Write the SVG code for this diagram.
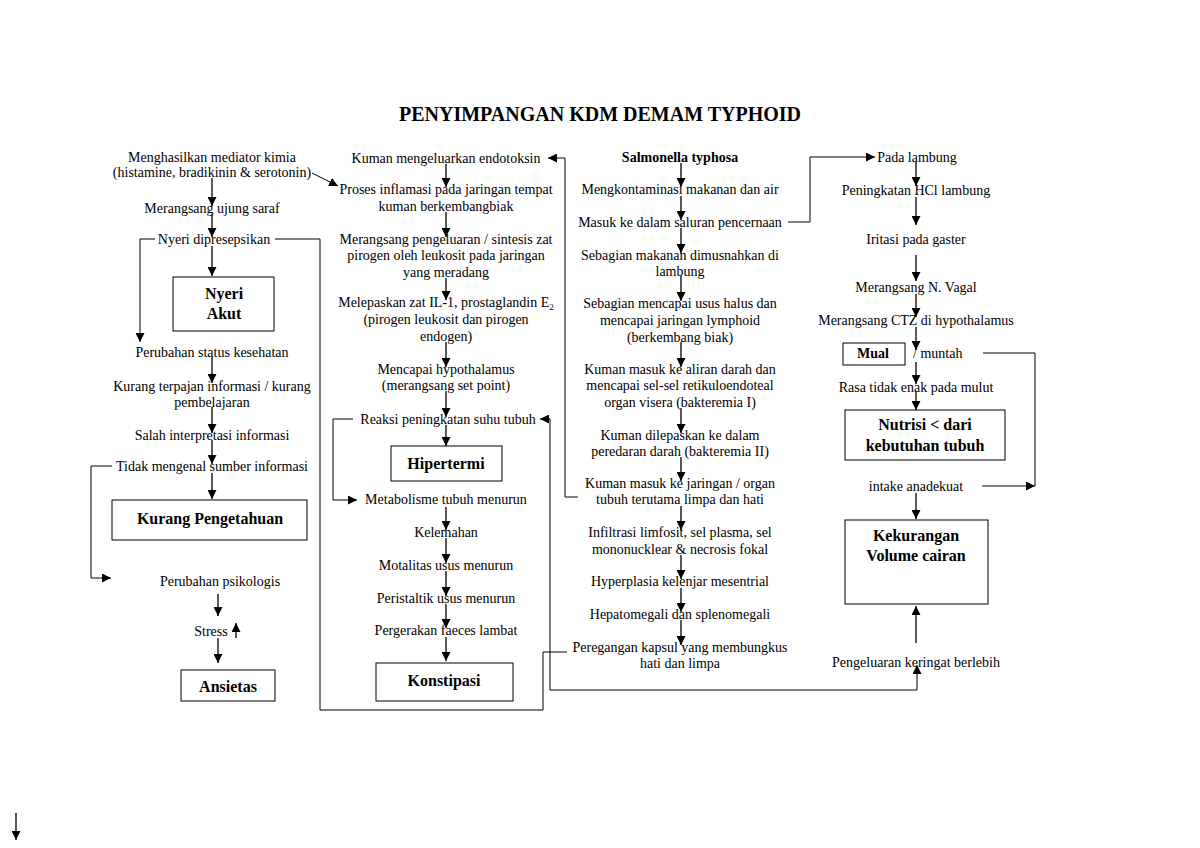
<svg xmlns="http://www.w3.org/2000/svg" width="1200" height="848" viewBox="0 0 1200 848">
<defs>
<marker id="ah" viewBox="0 0 10 10" refX="10" refY="5" markerWidth="9" markerHeight="9" markerUnits="userSpaceOnUse" orient="auto"><path d="M0,0 L10,5 L0,10 z" fill="#000"/></marker>
</defs>
<style>
text{font-family:"Liberation Serif","Times New Roman",serif;fill:#000}
.t{font-size:14px;text-anchor:middle}
.ts{font-size:14px;text-anchor:start}
.title{font-size:20px;font-weight:bold;text-anchor:middle}
.b{font-size:16px;font-weight:bold;text-anchor:middle}
.bt{font-size:14px;font-weight:bold;text-anchor:middle}
.box{fill:#fff;stroke:#000;stroke-width:1}
.a{stroke:#000;stroke-width:1.3;fill:none;marker-end:url(#ah)}
.l{stroke:#000;stroke-width:1;fill:none}
.la{stroke:#000;stroke-width:1;fill:none;marker-end:url(#ah)}
</style>
<rect width="1200" height="848" fill="#fff"/>
<text class="title" x="600" y="121">PENYIMPANGAN KDM DEMAM TYPHOID</text>

<g id="connectors">
<!-- column 1 -->
<line class="a" x1="212" y1="178" x2="212" y2="206"/>
<line class="a" x1="212" y1="214" x2="212" y2="237"/>
<line class="a" x1="212" y1="246" x2="212" y2="276"/>
<line class="a" x1="212" y1="357" x2="212" y2="383"/>
<line class="a" x1="212" y1="407" x2="212" y2="433"/>
<line class="a" x1="212" y1="440" x2="212" y2="464"/>
<line class="a" x1="212" y1="473" x2="212" y2="499"/>
<line class="a" x1="218" y1="594" x2="218" y2="616"/>
<line class="a" x1="218" y1="638" x2="218" y2="663"/>
<line class="a" x1="236" y1="638" x2="236" y2="623"/>
<polyline class="la" points="155,239 140,239 140,342"/>
<polyline class="la" points="112,466 91,466 91,578 111,578"/>
<polyline class="la" points="312,173 338,186"/>
<polyline class="l" points="567,652 543,652 543,710 320,710 320,239 275,239"/>
<!-- column 2 -->
<line class="a" x1="446" y1="164" x2="446" y2="187"/>
<line class="a" x1="446" y1="212" x2="446" y2="237"/>
<line class="a" x1="446" y1="278" x2="446" y2="300"/>
<line class="a" x1="446" y1="342" x2="446" y2="367"/>
<line class="a" x1="446" y1="391" x2="446" y2="417"/>
<line class="a" x1="446" y1="425" x2="446" y2="446"/>
<line class="a" x1="446" y1="507" x2="446" y2="530"/>
<line class="a" x1="446" y1="538" x2="446" y2="563"/>
<line class="a" x1="446" y1="571" x2="446" y2="596"/>
<line class="a" x1="446" y1="604" x2="446" y2="628"/>
<line class="a" x1="446" y1="637" x2="446" y2="661"/>
<polyline class="la" points="353,419 333,419 333,500 357,500"/>
<polyline class="la" points="550,690 550,419 540,419"/>
<polyline class="la" points="550,690 917,690 917,665"/>
<polyline class="la" points="578,497 565,497 565,158 548,158"/>
<!-- column 3 -->
<line class="a" x1="681" y1="163" x2="681" y2="187"/>
<line class="a" x1="681" y1="196" x2="681" y2="220"/>
<line class="a" x1="681" y1="228" x2="681" y2="253"/>
<line class="a" x1="681" y1="276" x2="681" y2="301"/>
<line class="a" x1="681" y1="342" x2="681" y2="367"/>
<line class="a" x1="681" y1="408" x2="681" y2="433"/>
<line class="a" x1="681" y1="457" x2="681" y2="481"/>
<line class="a" x1="681" y1="506" x2="681" y2="530"/>
<line class="a" x1="681" y1="555" x2="681" y2="579"/>
<line class="a" x1="681" y1="588" x2="681" y2="612"/>
<line class="a" x1="681" y1="620" x2="681" y2="645"/>
<polyline class="la" points="788,222 810,222 810,157 875,157"/>
<!-- column 4 -->
<line class="a" x1="916" y1="162" x2="916" y2="186"/>
<line class="a" x1="916" y1="197" x2="916" y2="225"/>
<line class="a" x1="916" y1="255" x2="916" y2="281"/>
<line class="a" x1="916" y1="294" x2="916" y2="317"/>
<line class="a" x1="916" y1="327" x2="916" y2="350"/>
<line class="a" x1="916" y1="362" x2="916" y2="384"/>
<line class="a" x1="916" y1="392" x2="916" y2="410"/>
<line class="a" x1="916" y1="493" x2="916" y2="519"/>
<line class="a" x1="916" y1="643" x2="916" y2="606"/>
<polyline class="l" points="983,353 1035,353 1035,486"/>
<line class="la" x1="982" y1="486" x2="1035" y2="486"/>
<!-- stray arrow -->
<line class="a" x1="16" y1="813" x2="16" y2="840"/>
</g>

<g id="n-menghasilkan"><text class="t" x="212" y="162">Menghasilkan mediator kimia</text><text class="t" x="212" y="177">(histamine, bradikinin &amp; serotonin)</text></g>
<g id="n-merangsang-ujung"><text class="t" x="212" y="213">Merangsang ujung saraf</text></g>
<g id="n-nyeri-dipresepsikan"><text class="t" x="214" y="244">Nyeri dipresepsikan</text></g>
<g id="n-nyeri-akut"><rect class="box" x="173" y="277" width="101" height="54"/><text class="b" x="224" y="299">Nyeri</text><text class="b" x="224" y="319">Akut</text></g>
<g id="n-perubahan-status"><text class="t" x="212" y="357">Perubahan status kesehatan</text></g>
<g id="n-kurang-terpajan"><text class="t" x="212" y="391">Kurang terpajan informasi / kurang</text><text class="t" x="212" y="407">pembelajaran</text></g>
<g id="n-salah-interpretasi"><text class="t" x="212" y="440">Salah interpretasi informasi</text></g>
<g id="n-tidak-mengenal"><text class="t" x="212" y="471">Tidak mengenal sumber informasi</text></g>
<g id="n-kurang-pengetahuan"><rect class="box" x="112" y="500" width="195" height="40"/><text class="b" x="210" y="524">Kurang  Pengetahuan</text></g>
<g id="n-perubahan-psikologis"><text class="t" x="220" y="586">Perubahan psikologis</text></g>
<g id="n-stress"><text class="t" x="211" y="636">Stress</text></g>
<g id="n-ansietas"><rect class="box" x="181" y="670" width="94" height="31"/><text class="b" x="228" y="692">Ansietas</text></g>

<g id="n-kuman-endotoksin"><text class="t" x="446" y="163">Kuman mengeluarkan endotoksin</text></g>
<g id="n-proses-inflamasi"><text class="t" x="446" y="194">Proses inflamasi pada jaringan tempat</text><text class="t" x="446" y="211">kuman berkembangbiak</text></g>
<g id="n-merangsang-pirogen"><text class="t" x="446" y="244">Merangsang pengeluaran / sintesis zat</text><text class="t" x="446" y="260">pirogen oleh leukosit pada jaringan</text><text class="t" x="446" y="277">yang meradang</text></g>
<g id="n-melepaskan"><text class="t" x="446" y="307">Melepaskan zat IL-1, prostaglandin E<tspan font-size="9" dy="3">2</tspan></text><text class="t" x="446" y="324">(pirogen leukosit dan pirogen</text><text class="t" x="446" y="341">endogen)</text></g>
<g id="n-mencapai-hypothalamus"><text class="t" x="446" y="374">Mencapai hypothalamus</text><text class="t" x="446" y="390">(merangsang set point)</text></g>
<g id="n-reaksi"><text class="t" x="448" y="424">Reaksi peningkatan suhu tubuh</text></g>
<g id="n-hipertermi"><rect class="box" x="391" y="446" width="111" height="35"/><text class="b" x="446" y="469">Hipertermi</text></g>
<g id="n-metabolisme"><text class="t" x="446" y="504">Metabolisme tubuh menurun</text></g>
<g id="n-kelemahan"><text class="t" x="446" y="537">Kelemahan</text></g>
<g id="n-motalitas"><text class="t" x="446" y="570">Motalitas usus menurun</text></g>
<g id="n-peristaltik"><text class="t" x="446" y="603">Peristaltik usus menurun</text></g>
<g id="n-pergerakan"><text class="t" x="446" y="635">Pergerakan faeces lambat</text></g>
<g id="n-konstipasi"><rect class="box" x="376" y="663" width="137" height="38"/><text class="b" x="444" y="686">Konstipasi</text></g>

<g id="n-salmonella"><text class="bt" x="680" y="162">Salmonella typhosa</text></g>
<g id="n-mengkontaminasi"><text class="t" x="680" y="194">Mengkontaminasi makanan dan air</text></g>
<g id="n-masuk-saluran"><text class="t" x="680" y="227">Masuk ke dalam saluran pencernaan</text></g>
<g id="n-sebagian-makanan"><text class="t" x="680" y="260">Sebagian makanan dimusnahkan di</text><text class="t" x="680" y="276">lambung</text></g>
<g id="n-sebagian-mencapai"><text class="t" x="680" y="308">Sebagian mencapai usus halus dan</text><text class="t" x="680" y="325">mencapai jaringan lymphoid</text><text class="t" x="680" y="342">(berkembang biak)</text></g>
<g id="n-kuman-aliran"><text class="t" x="680" y="374">Kuman masuk ke aliran darah dan</text><text class="t" x="680" y="390">mencapai sel-sel retikuloendoteal</text><text class="t" x="680" y="407">organ visera (bakteremia I)</text></g>
<g id="n-kuman-dilepaskan"><text class="t" x="680" y="440">Kuman dilepaskan ke dalam</text><text class="t" x="680" y="456">peredaran darah (bakteremia II)</text></g>
<g id="n-kuman-jaringan"><text class="t" x="680" y="488">Kuman masuk ke jaringan / organ</text><text class="t" x="680" y="504">tubuh terutama limpa dan hati</text></g>
<g id="n-infiltrasi"><text class="t" x="680" y="537">Infiltrasi limfosit, sel plasma, sel</text><text class="t" x="680" y="554">mononucklear &amp; necrosis fokal</text></g>
<g id="n-hyperplasia"><text class="t" x="680" y="586">Hyperplasia kelenjar mesentrial</text></g>
<g id="n-hepatomegali"><text class="t" x="680" y="619">Hepatomegali dan splenomegali</text></g>
<g id="n-peregangan"><text class="t" x="680" y="652">Peregangan kapsul yang membungkus</text><text class="t" x="680" y="668">hati dan limpa</text></g>

<g id="n-pada-lambung"><text class="t" x="917" y="162">Pada lambung</text></g>
<g id="n-peningkatan-hcl"><text class="t" x="916" y="195">Peningkatan HCl lambung</text></g>
<g id="n-iritasi"><text class="t" x="916" y="244">Iritasi pada gaster</text></g>
<g id="n-vagal"><text class="t" x="916" y="292">Merangsang N. Vagal</text></g>
<g id="n-ctz"><text class="t" x="916" y="325">Merangsang CTZ di hypothalamus</text></g>
<g id="n-mual"><rect class="box" x="843" y="343" width="62" height="22"/><text class="bt" x="873" y="358">Mual</text></g>
<g id="n-muntah"><text class="ts" x="913" y="358">/ muntah</text></g>
<g id="n-rasa"><text class="t" x="916" y="392">Rasa tidak enak pada mulut</text></g>
<g id="n-nutrisi"><rect class="box" x="845" y="410" width="160" height="50"/><text class="b" x="925" y="430">Nutrisi &lt; dari</text><text class="b" x="925" y="451">kebutuhan tubuh</text></g>
<g id="n-intake"><text class="t" x="916" y="491">intake anadekuat</text></g>
<g id="n-kekurangan"><rect class="box" x="845" y="520" width="143" height="84"/><text class="b" x="916" y="541">Kekurangan</text><text class="b" x="916" y="561">Volume cairan</text></g>
<g id="n-pengeluaran"><text class="t" x="916" y="667">Pengeluaran keringat berlebih</text></g>
</svg>
